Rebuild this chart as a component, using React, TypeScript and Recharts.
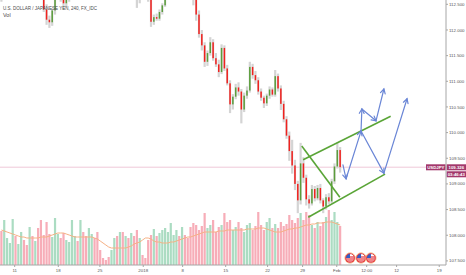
import { ComposedChart, Bar, Line, XAxis, YAxis, ReferenceLine, ReferenceDot } from "recharts";

const W = 466;
const H = 275;
const FONT = "'Liberation Sans', Arial, sans-serif";

// time axis in 8h slots, price axis in yen
const SLOTS = 158;
const PRICE_DOMAIN = [107.42, 112.584];
const VOL_DOMAIN = [0, 50350];

const TITLE = "U.S. DOLLAR / JAPANESE YEN, 240, FX_IDC";
const SYMBOL = "USDJPY";
const LAST_PRICE = 109.326;
const COUNTDOWN = "03:46:43";

const PRICE_TICKS = [107.5, 108, 108.5, 109, 109.5, 110, 110.5, 111, 111.5, 112, 112.5];
const DATE_TICKS = [5.2, 20.65, 35.4, 50.75, 64.7, 79.95, 94.8, 107.2, 119.3, 129.9, 140.5, 155.6];
const DATE_LABELS = ["11", "18", "25", "2018", "8", "15", "22", "29", "Feb", "12:00", "12", "19"];

const OPEN = [
  112.7, 112.63, 112.9, 112.96, 113.15, 113.38, 113.3, 113.48, 113.55, 113.4, 113.28, 113.4, 113.22, 113.3, 113.1, 112.7,
  112.4, 112.2, 112.15, 112.38, 112.66, 112.78, 112.62, 112.52, 112.66, 112.74, 112.9, 113.02, 112.88, 113.15, 113.12, 113.0,
  113.28, 113.45, 113.38, 113.25, 113.22, 113.2, 113.18, 113.14, 113.28, 113.35, 113.24, 113.4, 113.3, 113.36, 113.18, 113.26,
  112.98, 112.7, 112.78, 112.72, 112.7, 112.66, 112.16, 112.25, 112.22, 112.35, 112.48, 112.7, 112.9, 112.98, 113.04, 113.2,
  113.12, 113.3, 113.24, 113.1, 112.88, 112.68, 112.3, 111.92, 111.7, 111.38, 111.55, 111.76, 111.45, 111.33, 111.18, 111.65,
  111.25, 110.96, 110.55, 110.7, 110.88, 110.8, 110.45, 110.72, 110.82, 111.28, 111.12, 111.02, 110.8, 110.68, 110.57, 110.72,
  110.84, 110.74, 111.1, 110.86, 110.56, 110.26, 109.94, 109.64, 109.36, 109.0, 108.68, 109.4, 109.12, 108.7, 108.62, 108.9,
  108.72, 108.92, 108.68, 108.56, 108.74, 108.66, 109.05, 109.34, 109.66,
];
const HIGH = [
  112.78, 112.95, 113.05, 113.2, 113.42, 113.5, 113.55, 113.62, 113.6, 113.48, 113.45, 113.45, 113.35, 113.4, 113.15, 112.78,
  112.5, 112.28, 112.42, 112.72, 112.85, 112.82, 112.72, 112.7, 112.8, 112.95, 113.1, 113.12, 113.2, 113.3, 113.18, 113.35,
  113.5, 113.55, 113.42, 113.35, 113.3, 113.28, 113.25, 113.32, 113.4, 113.42, 113.45, 113.48, 113.42, 113.4, 113.3, 113.3,
  113.1, 112.82, 112.9, 112.8, 112.78, 112.7, 112.3, 112.32, 112.4, 112.52, 112.75, 112.95, 113.05, 113.1, 113.25, 113.3,
  113.38, 113.4, 113.3, 113.15, 112.95, 112.75, 112.38, 112.0, 111.76, 111.6, 111.86, 111.82, 111.55, 111.42, 111.72, 111.7,
  111.32, 111.02, 110.75, 110.95, 110.98, 110.85, 110.78, 110.9, 111.38, 111.34, 111.2, 111.08, 110.86, 110.72, 110.76, 110.9,
  110.88, 111.22, 111.15, 110.92, 110.62, 110.32, 110.02, 109.86, 109.47, 109.06, 109.8, 109.52, 109.18, 108.78, 108.98, 108.96,
  108.98, 109.0, 108.72, 108.8, 108.82, 109.1, 109.4, 109.8, 109.72,
];
const LOW = [
  112.55, 112.6, 112.82, 112.9, 113.08, 113.22, 113.25, 113.4, 113.32, 113.2, 113.2, 113.15, 113.05, 113.0, 112.62, 112.35,
  112.1, 112.04, 112.08, 112.3, 112.6, 112.55, 112.4, 112.44, 112.55, 112.68, 112.85, 112.8, 112.85, 113.05, 112.95, 112.98,
  113.2, 113.3, 113.2, 113.18, 113.15, 113.12, 113.1, 113.1, 113.2, 113.18, 113.2, 113.22, 113.25, 113.12, 113.1, 112.9,
  112.43, 112.52, 112.65, 112.62, 112.55, 112.06, 112.1, 112.18, 112.18, 112.3, 112.45, 112.65, 112.82, 112.9, 113.0, 113.08,
  113.05, 113.18, 113.05, 112.8, 112.48, 112.18, 111.85, 111.6, 111.28, 111.3, 111.5, 111.4, 111.28, 111.08, 111.14, 111.2,
  110.92, 110.38, 110.45, 110.65, 110.72, 110.18, 110.4, 110.66, 110.78, 111.05, 110.95, 110.74, 110.62, 110.48, 110.52, 110.66,
  110.7, 110.7, 110.8, 110.44, 110.2, 109.88, 109.45, 109.2, 108.88, 108.43, 108.6, 109.02, 108.58, 108.52, 108.58, 108.66,
  108.68, 108.62, 108.43, 108.5, 108.6, 108.62, 109.0, 109.3, 109.22,
];
const CLOSE = [
  112.63, 112.9, 112.96, 113.15, 113.38, 113.3, 113.48, 113.55, 113.4, 113.28, 113.4, 113.22, 113.3, 113.1, 112.7, 112.4,
  112.2, 112.15, 112.38, 112.66, 112.78, 112.62, 112.52, 112.66, 112.74, 112.9, 113.02, 112.88, 113.15, 113.12, 113.0, 113.28,
  113.45, 113.38, 113.25, 113.22, 113.2, 113.18, 113.14, 113.28, 113.35, 113.24, 113.4, 113.3, 113.36, 113.18, 113.26, 112.98,
  112.7, 112.78, 112.72, 112.7, 112.66, 112.16, 112.25, 112.22, 112.35, 112.48, 112.7, 112.9, 112.98, 113.04, 113.2, 113.12,
  113.3, 113.24, 113.1, 112.88, 112.68, 112.3, 111.92, 111.7, 111.38, 111.55, 111.76, 111.45, 111.33, 111.18, 111.65, 111.25,
  110.96, 110.55, 110.7, 110.88, 110.8, 110.45, 110.72, 110.82, 111.28, 111.12, 111.02, 110.8, 110.68, 110.57, 110.72, 110.84,
  110.74, 111.1, 110.86, 110.56, 110.26, 109.94, 109.64, 109.36, 109.0, 108.68, 109.4, 109.12, 108.7, 108.62, 108.9, 108.72,
  108.92, 108.68, 108.56, 108.74, 108.66, 109.05, 109.34, 109.66, 109.326,
];
const VOLUME = [
  6460, 8550, 5130, 4180, 8740, 5510, 3990, 6270, 4750, 3800, 7220, 5510, 4560, 7030, 8550, 5700,
  8170, 5890, 5320, 8930, 5890, 5130, 6080, 4750, 4370, 8550, 5510, 4560, 8550, 6270, 5510, 7030,
  5890, 5130, 6270, 2850, 1330, 950, 1520, 2850, 5130, 5510, 6270, 6270, 5510, 5130, 6080, 5510,
  6650, 5130, 1900, 1330, 4750, 5700, 6840, 5510, 6080, 6650, 7030, 6270, 7980, 5700, 6650, 5510,
  7220, 5700, 5130, 7220, 7980, 7600, 6650, 7410, 9880, 7030, 7600, 8550, 6270, 7220, 7600, 9880,
  8170, 8550, 6650, 7220, 8170, 7030, 6270, 7600, 7980, 6650, 7410, 10070, 7600, 6650, 8170, 8930,
  7030, 7790, 7030, 8170, 7410, 7790, 9500, 8550, 7980, 8930, 9880, 8550, 10070, 9500, 7600, 7030,
  8170, 7410, 8170, 9120, 10450, 8550, 10070, 8170, 7410,
];
const VOLUME_MA = [
  6650, 6460, 6270, 6080, 5890, 5700, 5510, 5320, 5320, 5130, 5130, 5130, 5130, 5130, 5320, 5320,
  5320, 5510, 5700, 5890, 6080, 6080, 6080, 5890, 5700, 5510, 5320, 5320, 5320, 5320, 5320, 5320,
  5320, 5130, 4940, 4560, 4180, 3800, 3420, 3230, 3230, 3230, 3230, 3230, 3230, 3420, 3610, 3990,
  4180, 4370, 4750, 5130, 5130, 4940, 4560, 4370, 4370, 4180, 4180, 4180, 4370, 4370, 4560, 4750,
  4940, 5130, 5320, 5320, 5510, 5700, 5890, 6080, 6270, 6270, 6270, 6270, 6270, 6460, 6460, 6460,
  6650, 6650, 6650, 6650, 6650, 6650, 6650, 6840, 6840, 6840, 6840, 7030, 7030, 7030, 6840, 6650,
  6460, 6270, 6270, 6270, 6460, 6650, 6840, 6840, 7030, 7030, 7220, 7410, 7600, 7600, 7790, 7790,
  7980, 7980, 7980, 8170, 8170, 8170, 7980, 7790, 7600,
];

// drawings: [start slot, start price, end slot, end price]
const CHANNEL = [
  [107.4, 109.47, 138.4, 110.32],
  [109.2, 108.35, 136.4, 109.19],
  [106.9, 109.74, 120.4, 108.74],
];
const ARROWS = [
  [121.5, 109.37, 122.6, 109.1],
  [122.6, 109.1, 127.9, 110.03],
  [127.9, 110.03, 128.2, 110.46],
  [128.2, 110.46, 133.2, 110.23],
  [133.2, 110.23, 136.0, 110.85],
  [127.9, 110.03, 136.0, 109.21],
  [136.0, 109.21, 144.2, 110.66],
];
const EVENT_SLOTS = [124, 127.9, 131.4];

const rows = CLOSE.map((close, i) => ({
  t: i + 0.5,
  range: [LOW[i], HIGH[i]],
  open: OPEN[i],
  high: HIGH[i],
  low: LOW[i],
  close,
  vol: VOLUME[i],
  ma: VOLUME_MA[i],
}));

function Candle(props: any) {
  const { x, y, width, height, payload } = props;
  if (payload == null || height == null) return null;
  const top = Math.min(y, y + height);
  const h = Math.abs(height);
  const span = payload.high - payload.low;
  const k = span > 0 ? h / span : 0;
  const cx = x + width / 2;
  const yo = top + (payload.high - payload.open) * k;
  const yc = top + (payload.high - payload.close) * k;
  const up = payload.close >= payload.open;
  return (
    <g>
      <line x1={cx} x2={cx} y1={top} y2={top + h} stroke="#d4d4d4" strokeWidth={2.2} />
      <rect
        x={cx - 0.75}
        y={Math.min(yo, yc)}
        width={1.5}
        height={Math.max(Math.abs(yc - yo), 0.8)}
        fill={up ? "#5b9d3c" : "#f0221f"}
      />
    </g>
  );
}

function VolumeBar(props: any) {
  const { x, y, width, height, payload } = props;
  if (payload == null) return null;
  const cx = x + width / 2;
  const up = payload.close >= payload.open;
  return <rect x={cx - 1.1} y={y} width={2.2} height={Math.max(height, 0)} fill={up ? "#abdcc2" : "#f7adb8"} />;
}

function ArrowLine(props: any) {
  const { x1, y1, x2, y2 } = props;
  const a = Math.atan2(y2 - y1, x2 - x1);
  const len = 5;
  const spread = 0.5;
  const ax = x2 - len * Math.cos(a - spread);
  const ay = y2 - len * Math.sin(a - spread);
  const bx = x2 - len * Math.cos(a + spread);
  const by = y2 - len * Math.sin(a + spread);
  return (
    <g stroke="#6a86d6" strokeWidth={1.2} fill="none" strokeLinecap="round">
      <line x1={x1} y1={y1} x2={x2} y2={y2} />
      <polyline points={`${ax},${ay} ${x2},${y2} ${bx},${by}`} />
    </g>
  );
}

function PriceTag({ viewBox }: any) {
  if (!viewBox) return null;
  const right = viewBox.x + viewBox.width;
  const y = viewBox.y;
  const bg = "#a3386c";
  return (
    <g fontFamily={FONT} fontSize={4.3} fontWeight={700}>
      <rect x={right - 20} y={y - 2.9} width={19.6} height={6} fill={bg} />
      <text x={right - 10.2} y={y + 1.6} textAnchor="middle" fill="#fff">{SYMBOL}</text>
      <rect x={right + 0.6} y={y - 2.9} width={19.4} height={6} fill={bg} />
      <text x={right + 10.3} y={y + 1.6} textAnchor="middle" fill="#fff">{LAST_PRICE.toFixed(3)}</text>
      <rect x={right + 0.6} y={y + 4.1} width={19.4} height={6} fill={bg} />
      <text x={right + 10.3} y={y + 8.6} textAnchor="middle" fill="#fff">{COUNTDOWN}</text>
    </g>
  );
}

// round US flag badge used by the economic calendar
function EventIcon(props: any) {
  const { cx, cy } = props;
  const r = 4.4;
  return (
    <g>
      <circle cx={cx} cy={cy} r={r + 0.8} fill="#fde9d9" stroke="#f0a25a" strokeWidth={0.6} />
      <circle cx={cx} cy={cy} r={r} fill="#fff" />
      <path d={`M${cx - r},${cy + 1} L${cx + r},${cy + 1}`} stroke="#e3343c" strokeWidth={1.2} />
      <path d={`M${cx - r + 0.6},${cy + 3} L${cx + r - 0.6},${cy + 3}`} stroke="#e3343c" strokeWidth={1.2} />
      <path d={`M${cx},${cy - 1} L${cx + r},${cy - 1}`} stroke="#e3343c" strokeWidth={1.2} />
      <path d={`M${cx - r},${cy} A${r},${r} 0 0 1 ${cx},${cy - r} L${cx},${cy} Z`} fill="#2f5fc4" />
      <circle cx={cx} cy={cy} r={r} fill="none" stroke="#e3343c" strokeWidth={0.9} />
    </g>
  );
}

const axisTick = { fontSize: 4.4, fill: "#555", fontFamily: FONT };

export default function App() {
  return (
    <div style={{ position: "absolute", left: 0, top: 0, width: W, height: H, background: "#fff" }}>
      <div style={{ position: "absolute", left: 0, top: 0 }}>
        <ComposedChart width={W} height={H} data={rows} margin={{ top: 0, right: 0, bottom: 0, left: 0 }}>
          <XAxis
            type="number"
            dataKey="t"
            domain={[0, SLOTS]}
            allowDataOverflow
            ticks={DATE_TICKS}
            interval={0}
            tickFormatter={(v: number) => DATE_LABELS[DATE_TICKS.indexOf(v)] ?? ""}
            height={10}
            tickSize={2}
            tickMargin={2}
            tick={axisTick}
            axisLine={{ stroke: "#a6a6a6" }}
            tickLine={{ stroke: "#a6a6a6" }}
          />
          <YAxis
            yAxisId="price"
            orientation="right"
            domain={PRICE_DOMAIN}
            allowDataOverflow
            ticks={PRICE_TICKS}
            interval={0}
            tickFormatter={(v: number) => v.toFixed(3)}
            width={20}
            tickSize={2}
            tickMargin={1}
            tick={{ ...axisTick, textAnchor: "start" }}
            axisLine={{ stroke: "#a6a6a6" }}
            tickLine={{ stroke: "#a6a6a6" }}
          />
          <YAxis yAxisId="vol" hide domain={VOL_DOMAIN} allowDataOverflow />
          <Bar yAxisId="vol" dataKey="vol" barSize={2.8} shape={VolumeBar} isAnimationActive={false} />
          <Line
            yAxisId="vol"
            dataKey="ma"
            type="linear"
            stroke="#f6b184"
            strokeWidth={1}
            dot={false}
            isAnimationActive={false}
          />
          <ReferenceLine
            yAxisId="price"
            y={LAST_PRICE}
            stroke="#efc9d8"
            strokeWidth={1}
            ifOverflow="visible"
            label={PriceTag}
          />
          {EVENT_SLOTS.map((t, i) => (
            <ReferenceDot key={i} yAxisId="vol" x={t} y={1330} r={5} shape={EventIcon} ifOverflow="visible" />
          ))}
        </ComposedChart>
      </div>
      <div style={{ position: "absolute", left: 0, top: 0 }}>
        <ComposedChart width={W} height={H} data={rows} margin={{ top: 0, right: 20, bottom: 10, left: 0 }}>
          <XAxis type="number" dataKey="t" domain={[0, SLOTS]} allowDataOverflow hide />
          <YAxis yAxisId="price" domain={PRICE_DOMAIN} allowDataOverflow hide />
          <Bar yAxisId="price" dataKey="range" barSize={2.8} shape={Candle} isAnimationActive={false} />
          {CHANNEL.map(([t1, p1, t2, p2], i) => (
            <ReferenceLine
              key={`c${i}`}
              yAxisId="price"
              segment={[{ x: t1, y: p1 }, { x: t2, y: p2 }]}
              stroke="#5aa537"
              strokeWidth={1.6}
              ifOverflow="visible"
            />
          ))}
          {ARROWS.map(([t1, p1, t2, p2], i) => (
            <ReferenceLine
              key={`a${i}`}
              yAxisId="price"
              segment={[{ x: t1, y: p1 }, { x: t2, y: p2 }]}
              shape={ArrowLine}
              ifOverflow="visible"
            />
          ))}
        </ComposedChart>
      </div>
      <svg width={W} height={H} style={{ position: "absolute", left: 0, top: 0 }}>
        <text x={3} y={10} fontFamily={FONT} fontSize={6} fill="#4a4a4a" textLength={94} lengthAdjust="spacingAndGlyphs">
          {TITLE}
        </text>
        <text x={3} y={17} fontFamily={FONT} fontSize={5.5} fill="#4a4a4a">Vol</text>
      </svg>
    </div>
  );
}
